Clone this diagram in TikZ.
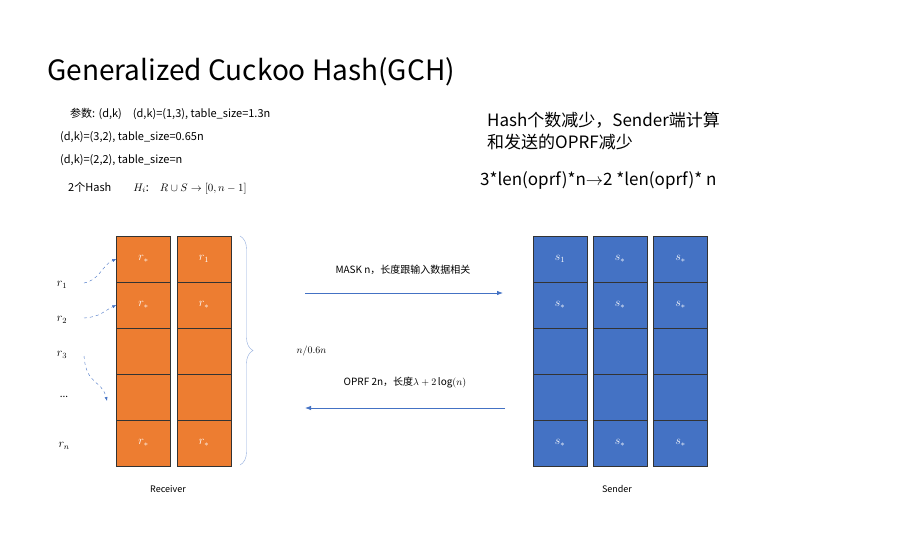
\documentclass[tikz,border=0pt]{standalone}
\usepackage{fontspec}
\setmainfont{Noto Sans CJK SC}
\usetikzlibrary{arrows.meta,decorations.pathreplacing}
\definecolor{org}{HTML}{ED7D31}
\definecolor{blu}{HTML}{4472C4}
\definecolor{arr}{HTML}{4472C4}
\begin{document}
\begin{tikzpicture}[x=1pt,y=-1pt,
  rc/.style={draw=black!80,fill=org,minimum width=54pt,minimum height=46pt,inner sep=0,text=white,font=\large},
  sc/.style={draw=black!80,fill=blu,minimum width=54pt,minimum height=46pt,inner sep=0,text=white,font=\large},
  txt/.style={anchor=west,inner sep=0,font=\fontsize{11}{13}\selectfont},
  darr/.style={draw=arr,dashed,-{Latex[length=4pt]},thin},
  flow/.style={draw=arr,-{Latex[length=6pt]},thick}]
\path[use as bounding box] (0,0) rectangle (906,550);
\node[anchor=west,inner sep=0,font=\fontsize{28}{32}\selectfont] (title) at (47,72) {Generalized Cuckoo Hash(GCH)};
\node[txt] (t1) at (70,114) {参数: (d,k)\quad(d,k)=(1,3), table\_size=1.3n};
\node[txt] (t2) at (60,137) {(d,k)=(3,2), table\_size=0.65n};
\node[txt] (t3) at (60,160) {(d,k)=(2,2), table\_size=n};
\node[txt] (t4) at (68,188) {2个Hash\qquad $H_i$:\quad $R\cup S\rightarrow[0,n-1]$};
\node[anchor=west,inner sep=0,align=left,font=\fontsize{17}{22}\selectfont] (rt) at (487,131) {Hash个数减少，Sender端计算\\和发送的OPRF减少};
\node[anchor=west,inner sep=0,font=\fontsize{17}{20}\selectfont] (rt2) at (480,180) {3*len(oprf)*n$\rightarrow$2 *len(oprf)* n};
\foreach \i/\a/\b in {1/{$r_*$}/{$r_1$},2/{$r_*$}/{$r_*$},3/{}/{},4/{}/{},5/{$r_*$}/{$r_*$}}{
  \node[rc] (ra\i) at (143.5,{236+46*(\i-1)+23}) {\a};
  \node[rc] (rb\i) at (204,{236+46*(\i-1)+23}) {\b};}
\foreach \i/\a/\b/\c in {1/{$s_1$}/{$s_*$}/{$s_*$},2/{$s_*$}/{$s_*$}/{$s_*$},3/{}/{}/{},4/{}/{}/{},5/{$s_*$}/{$s_*$}/{$s_*$}}{
  \node[sc] (sa\i) at (560,{236+46*(\i-1)+23}) {\a};
  \node[sc] (sb\i) at (620,{236+46*(\i-1)+23}) {\b};
  \node[sc] (sc\i) at (680.5,{236+46*(\i-1)+23}) {\c};}
\node[font=\large] (r1) at (62,285) {$r_1$};
\node[font=\large] (r2) at (62,320) {$r_2$};
\node[font=\large] (r3) at (62,355) {$r_3$};
\node (rd) at (64,397) {...};
\node[font=\large] (rn) at (64,446) {$r_n$};
\coordinate (r3e) at (107,401);
\draw[darr] (84,283) .. controls (100,280) and (102,265) .. (ra1.west);
\draw[darr] (84,318) .. controls (100,317) and (104,311) .. (ra2.west);
\draw[darr] (84,356) .. controls (86,385) and (102,380) .. (r3e);
\draw[blu!60,thin,decorate,decoration={brace,amplitude=13pt}] (240,236) -- (240,465) coordinate[midway] (bm);
\node[anchor=west] (nl) at (293,351) {$n/0.6n$};
\node (mk) at (403,270) {MASK n，长度跟输入数据相关};
\node (op) at (405,383) {OPRF 2n，长度$\lambda+2\log(n)$};
\draw[flow] (305,293) -- (503,293);
\draw[flow] (505,408) -- (305,408);
\node[font=\small] (rv) at (168,489) {Receiver};
\node[font=\small] (sd) at (617,489) {Sender};
\end{tikzpicture}
\end{document}
